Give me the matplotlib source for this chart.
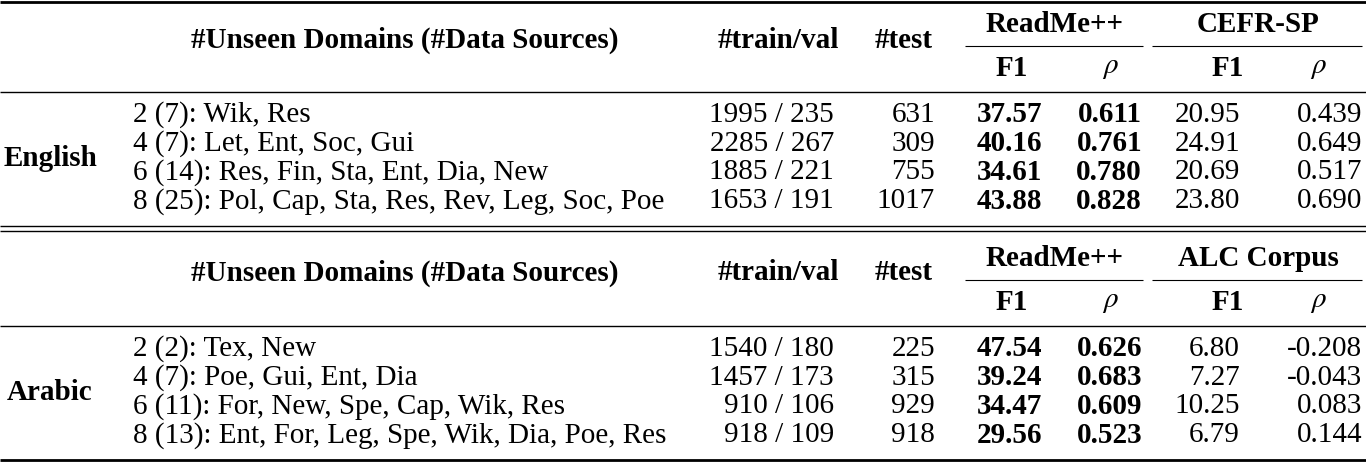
import matplotlib
matplotlib.use("Agg")
import matplotlib.pyplot as plt

plt.rcParams['font.family'] = ['Liberation Serif', 'DejaVu Serif']
plt.rcParams['mathtext.fontset'] = 'stix'

langs = ["English", "Arabic"]
corpora = ["CEFR-SP", "ALC Corpus"]
domains = [
    ["2 (7): Wik, Res", "4 (7): Let, Ent, Soc, Gui",
     "6 (14): Res, Fin, Sta, Ent, Dia, New", "8 (25): Pol, Cap, Sta, Res, Rev, Leg, Soc, Poe"],
    ["2 (2): Tex, New", "4 (7): Poe, Gui, Ent, Dia",
     "6 (11): For, New, Spe, Cap, Wik, Res", "8 (13): Ent, For, Leg, Spe, Wik, Dia, Poe, Res"],
]
trainval = [["1995 / 235", "2285 / 267", "1885 / 221", "1653 / 191"],
            ["1540 / 180", "1457 / 173", "910 / 106", "918 / 109"]]
test = [["631", "309", "755", "1017"], ["225", "315", "929", "918"]]
rm_f1 = [["37.57", "40.16", "34.61", "43.88"], ["47.54", "39.24", "34.47", "29.56"]]
rm_rho = [["0.611", "0.761", "0.780", "0.828"], ["0.626", "0.683", "0.609", "0.523"]]
ot_f1 = [["20.95", "24.91", "20.69", "23.80"], ["6.80", "7.27", "10.25", "6.79"]]
ot_rho = [["0.439", "0.649", "0.517", "0.690"], ["-0.208", "-0.043", "0.083", "0.144"]]

W, H = 1366, 463
fig = plt.figure(figsize=(W/100, H/100), dpi=100)
ax = fig.add_axes([0, 0, 1, 1])
ax.set_xlim(0, W); ax.set_ylim(H, 0); ax.axis('off')
fs = 21

def t(x, y, s, ha='center', bold=False, italic=False):
    ax.text(x, y, s, ha=ha, va='center', fontsize=fs,
            fontweight='bold' if bold else 'normal',
            fontstyle='italic' if italic else 'normal')

def hl(y, x0=0, x1=W, lw=1.0):
    ax.plot([x0, x1], [y, y], color='black', lw=lw, solid_capstyle='butt')

hl(2, lw=2.0)
blocks = [0, 234]
for b, top in enumerate(blocks):
    if b == 1:
        hl(226, lw=1.0); hl(231, lw=1.0)
    hy = top + 40 if b == 0 else 273
    t(405, hy, "#Unseen Domains (#Data Sources)", bold=True)
    t(778, hy, "#train/val", bold=True)
    t(904, hy, "#test", bold=True)
    gy = top + 24
    t(1055, gy, "ReadMe++", bold=True)
    t(1258, gy, corpora[b], bold=True)
    cy = top + 46
    hl(cy, 965, 1143, lw=0.8); hl(cy, 1152, 1362, lw=0.8)
    fy = top + 68
    t(1012, fy, "F1", bold=True); t(1110, fy, r"$\rho$")
    t(1228, fy, "F1", bold=True); t(1318, fy, r"$\rho$")
    hl(top + 92, lw=1.0)
    ys = [top + 115 + i * 28.7 for i in range(4)]
    t(50, (ys[1] + ys[2]) / 2, langs[b], bold=True)
    for i, y in enumerate(ys):
        t(133, y, domains[b][i], ha='left')
        t(834, y, trainval[b][i], ha='right')
        t(935, y, test[b][i], ha='right')
        t(1042, y, rm_f1[b][i], ha='right', bold=True)
        t(1142, y, rm_rho[b][i], ha='right', bold=True)
        t(1240, y, ot_f1[b][i], ha='right')
        t(1362, y, ot_rho[b][i], ha='right')
hl(460, lw=2.0)

fig.savefig("out.png", dpi=100)
